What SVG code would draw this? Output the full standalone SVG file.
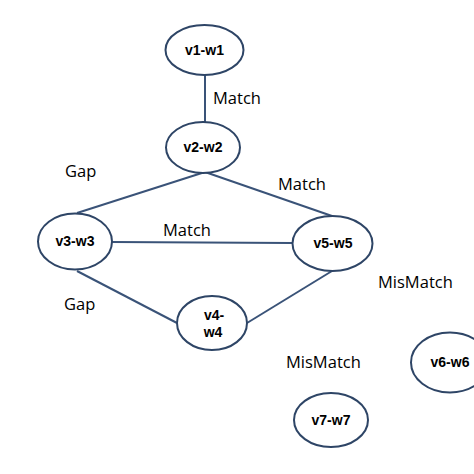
<svg xmlns="http://www.w3.org/2000/svg" width="474" height="474" viewBox="0 0 474 474">
<style>
.node{fill:#fff;stroke:#2e4566;stroke-width:2}
.edge{stroke:#3a5378;stroke-width:2;fill:none}
.nl{font-family:"Liberation Sans",Arial,sans-serif;font-size:14px;font-weight:bold;fill:#000;text-anchor:middle}
.el{font-family:"Open Sans","Liberation Sans",sans-serif;font-size:16.5px;fill:#000}
</style>
<rect width="474" height="474" fill="#fff"/>
<g id="connectors">
<line class="edge" x1="205" y1="75" x2="205" y2="122"/>
<line class="edge" x1="205" y1="172" x2="77" y2="213"/>
<line class="edge" x1="205" y1="172" x2="332" y2="216"/>
<line class="edge" x1="112" y1="242" x2="292" y2="243"/>
<line class="edge" x1="77" y1="271" x2="177" y2="323"/>
<line class="edge" x1="247" y1="323" x2="332" y2="271"/>
</g>
<g id="edge-labels">
<text class="el" x="213" y="104">Match</text>
<text class="el" x="65" y="177">Gap</text>
<text class="el" x="278" y="190">Match</text>
<text class="el" x="163" y="236">Match</text>
<text class="el" x="64" y="310">Gap</text>
<text class="el" x="378" y="288">MisMatch</text>
<text class="el" x="286" y="368">MisMatch</text>
</g>
<g id="n1"><ellipse class="node" cx="204.5" cy="50" rx="39" ry="25"/><text class="nl" x="204.5" y="55">v1-w1</text></g>
<g id="n2"><ellipse class="node" cx="203" cy="147.5" rx="37" ry="25.5"/><text class="nl" x="203" y="152">v2-w2</text></g>
<g id="n3"><ellipse class="node" cx="75" cy="241.5" rx="37" ry="28"/><text class="nl" x="75" y="246">v3-w3</text></g>
<g id="n4"><ellipse class="node" cx="212" cy="323" rx="35" ry="27"/><text class="nl" x="214" y="320">v4-</text><text class="nl" x="213" y="337">w4</text></g>
<g id="n5"><ellipse class="node" cx="332.5" cy="243.5" rx="40" ry="27.5"/><text class="nl" x="333" y="248">v5-w5</text></g>
<g id="n6"><ellipse class="node" cx="450" cy="362.5" rx="39" ry="30"/><text class="nl" x="450" y="367">v6-w6</text></g>
<g id="n7"><ellipse class="node" cx="331" cy="420" rx="37" ry="27"/><text class="nl" x="331" y="425">v7-w7</text></g>
</svg>
